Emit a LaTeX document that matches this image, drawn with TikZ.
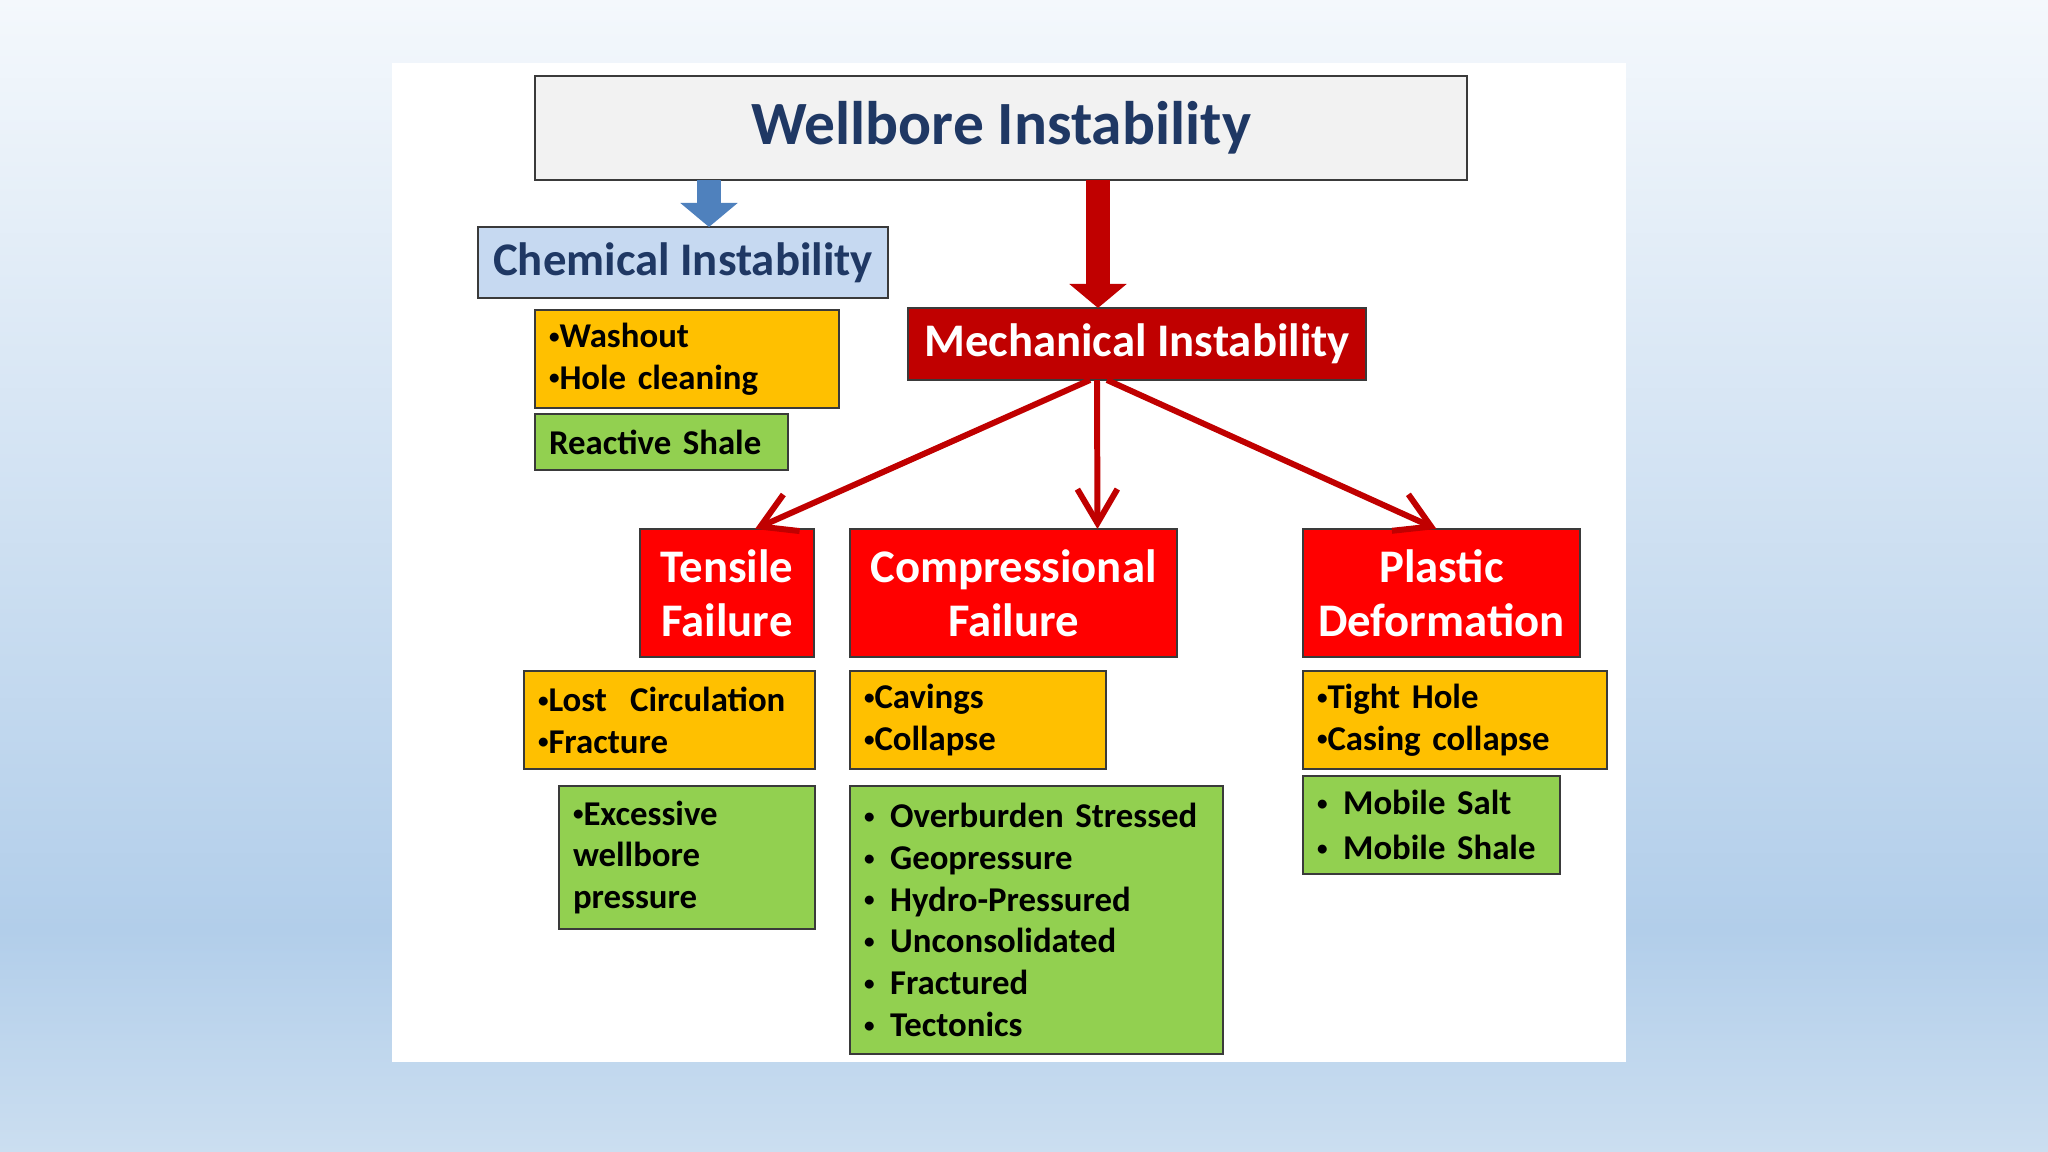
\documentclass[tikz,border=0pt]{standalone}
\usepackage{fontspec}
\setmainfont{Carlito}
\usetikzlibrary{arrows.meta,calc}
\definecolor{wbnavy}{HTML}{1F3864}
\definecolor{wbgrey}{HTML}{F2F2F2}
\definecolor{wbline}{HTML}{3A3A3A}
\definecolor{wbchem}{HTML}{C6D9F1}
\definecolor{wbblue}{HTML}{4F81BD}
\definecolor{wbdred}{HTML}{C00000}
\definecolor{wbred}{HTML}{FF0000}
\definecolor{wbyellow}{HTML}{FFC000}
\definecolor{wbgreen}{HTML}{92D050}
\definecolor{bgtop}{HTML}{F4F8FC}
\definecolor{bgmid}{HTML}{B2CEEA}
\definecolor{bgbot}{HTML}{CBDEF0}
\tikzset{
  base/.style={draw=wbline,line width=0.75pt,anchor=north west,outer sep=0pt},
  titlebox/.style={base,fill=wbgrey,text=wbnavy,
                   font=\fontsize{17.5}{21}\selectfont\bfseries},
  chembox/.style={base,fill=wbchem,text=wbnavy,
                  font=\fontsize{13.3}{15.4}\selectfont\bfseries},
  mechbox/.style={base,fill=wbdred,text=white,
                  font=\fontsize{13.3}{15.4}\selectfont\bfseries},
  failbox/.style={base,fill=wbred,text=white,align=center,
                  font=\fontsize{13.3}{15.4}\selectfont\bfseries},
  sympbox/.style={base,fill=wbyellow,align=left,inner xsep=0.14cm,
                  font=\fontsize{9.9}{11.9}\selectfont\bfseries},
  causebox/.style={base,fill=wbgreen,align=left,inner xsep=0.14cm,
                   font=\fontsize{9.9}{11.9}\selectfont\bfseries},
  ar/.style={-{Straight Barb[length=0.34cm,width=0.40cm]},line width=1.7pt,wbdred},
  blockar/.style={line width=0.24cm,-{Triangle[length=0.24cm,width=0.56cm]}},
}
% small bullets as in the slide
\newcommand{\sbul}{\raisebox{0.12em}{\fontsize{6}{6}\selectfont•}}
\newcommand{\tbul}{\makebox[0.75em][l]{\sbul}}

\begin{document}
\begin{tikzpicture}
  % slide background
  \useasboundingbox (0,0) rectangle (20.48,-11.52);
  \shade[top color=bgtop,bottom color=bgmid] (0,0) rectangle (20.48,-9.30);
  \shade[top color=bgmid,bottom color=bgbot] (0,-9.30) rectangle (20.48,-11.52);
  \fill[white] (3.92,-0.63) rectangle (16.26,-10.62);

  % top level
  \node[titlebox,minimum width=9.32cm,minimum height=1.04cm] (well) at (5.35,-0.76) {Wellbore Instability};
  \node[chembox,minimum width=4.10cm,minimum height=0.71cm] (chem) at (4.78,-2.27) {Chemical Instability};
  \node[mechbox,minimum width=4.58cm,minimum height=0.72cm] (mech) at (9.08,-3.08) {Mechanical Instability};

  % chemical side
  \node[sympbox,minimum width=3.04cm,minimum height=0.98cm,text width=2.76cm] (wash) at (5.35,-3.10)
    {\sbul Washout\\\sbul Hole cleaning};
  \node[causebox,minimum width=2.53cm,minimum height=0.56cm,text width=2.25cm] (react) at (5.35,-4.14)
    {Reactive Shale};

  % failure modes
  \node[failbox,minimum width=1.74cm,minimum height=1.28cm] (tens) at (6.40,-5.29) {Tensile\\Failure};
  \node[failbox,minimum width=3.27cm,minimum height=1.28cm] (comp) at (8.50,-5.29) {Compressional\\Failure};
  \node[failbox,minimum width=2.77cm,minimum height=1.28cm] (plas) at (13.03,-5.29) {Plastic\\Deformation};

  \node[sympbox,minimum width=2.91cm,minimum height=0.98cm,text width=2.63cm] (lost) at (5.24,-6.71)
    {\sbul Lost~ Circulation\\\sbul Fracture};
  \node[sympbox,minimum width=2.56cm,minimum height=0.98cm,text width=2.28cm] (cav) at (8.50,-6.71)
    {\sbul Cavings\\\sbul Collapse};
  \node[sympbox,minimum width=3.04cm,minimum height=0.98cm,text width=2.76cm] (tight) at (13.03,-6.71)
    {\sbul Tight Hole\\\sbul Casing collapse};

  \node[causebox,minimum width=2.56cm,minimum height=1.43cm,text width=2.28cm] (exc) at (5.59,-7.86)
    {\sbul Excessive\\wellbore\\pressure};
  \node[causebox,minimum width=3.73cm,minimum height=2.68cm,text width=3.45cm] (over) at (8.50,-7.86)
    {\tbul Overburden Stressed\\\tbul Geopressure\\\tbul Hydro-Pressured\\\tbul Unconsolidated\\\tbul Fractured\\\tbul Tectonics};
  \node[causebox,minimum width=2.57cm,minimum height=0.98cm,text width=2.29cm] (mob) at (13.03,-7.76)
    {\tbul Mobile Salt\\[1pt]\tbul Mobile Shale};

  % connectors
  \coordinate (cx) at (7.09,0);
  \coordinate (mx) at (10.98,0);
  \draw[blockar,wbblue] (well.south -| cx) -- (chem.north -| cx);
  \draw[blockar,wbdred] (well.south -| mx) -- (mech.north -| mx);
  \draw[ar] ($(mech.south)+(-0.47,0)$) -- ($(tens.north)+(0.28,0)$);
  \draw[ar] ($(mech.south)+(-0.40,0)$) -- ($(comp.north)+(0.84,0)$);
  \draw[ar] ($(mech.south)+(-0.30,0)$) -- ($(plas.north)+(-0.05,0)$);
\end{tikzpicture}
\end{document}
